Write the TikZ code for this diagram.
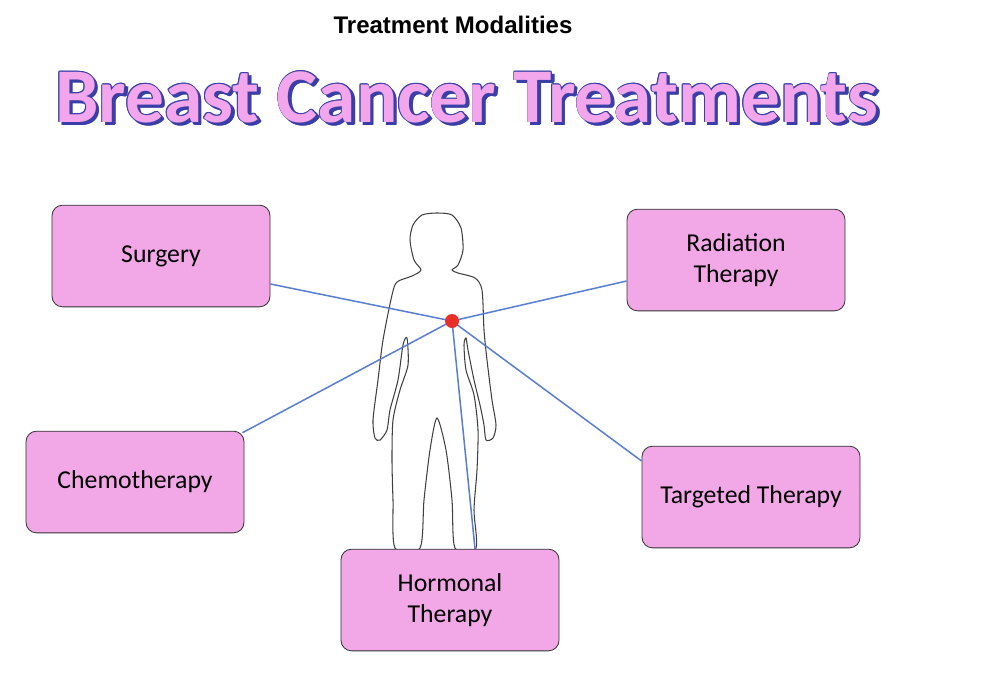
\documentclass[tikz,border=0pt]{standalone}
\usepackage{fontspec}
\setmainfont{Carlito}
\newfontfamily\hel{Liberation Sans}
\definecolor{boxpink}{HTML}{F2A7E6}
\definecolor{titlepink}{HTML}{F3A6EC}
\definecolor{linkblue}{HTML}{5B7FD0}
\definecolor{shadowblue}{HTML}{3A3FA8}
\definecolor{dotred}{HTML}{E8302A}
\begin{document}
\begin{tikzpicture}[x=0.03cm,y=-0.03cm,
  tbox/.style={draw=black!80,fill=boxpink,rounded corners=9pt,line width=0.7pt,minimum width=6.54cm,minimum height=3.05cm,align=center,font=\fontsize{22}{27}\selectfont,inner sep=0pt},
  link/.style={draw=linkblue,line width=1.3pt}]
\useasboundingbox (0,0) rectangle (1008,696);
\node[font=\hel\bfseries\fontsize{20.5}{23}\selectfont] (sub) at (453,25) {Treatment Modalities};
\foreach \dx/\dy in {3/3,2.5/3.5,3.5/2.5,-0.8/0,0.8/0,0/-0.8,0/0.8,-0.6/-0.6,0.6/0.6,-0.6/0.6,0.6/-0.6}
  \node[text=shadowblue,inner sep=0pt] at (467+\dx,97+\dy) {\resizebox{24.7cm}{!}{\bfseries Breast Cancer Treatments}};
\node[text=titlepink,inner sep=0pt] (title) at (467,97) {\resizebox{24.7cm}{!}{\bfseries Breast Cancer Treatments}};
% silhouette
\draw[black!75,line width=0.9pt] plot[smooth cycle,tension=0.45] coordinates{
(437,213)(452,215)(461,228)(463,250)(458,265)(452,270)(458,273)(475,278)(482,290)(484,330)(487,360)(492,400)(496,425)(493,438)(486,440)(484,425)(480,405)(474,380)(468,350)(466,338)(464,345)(466,370)(474,395)(478,430)(477,470)(474,510)(476,548)
(455,548)(452,500)(446,450)(437,418)(430,450)(424,500)(420,548)(395,548)(393,500)(392,460)(393,420)(400,390)(408,365)(407,338)(403,345)(398,380)(390,410)(387,430)(380,440)(375,438)(373,420)(378,380)(383,340)(392,295)(397,282)(412,276)(421,270)(414,260)(410,240)(413,225)(422,215)};
\node[tbox] (surg) at (161,256) {Surgery};
\node[tbox] (rad) at (736,260) {Radiation\\Therapy};
\node[tbox] (chemo) at (135,482) {Chemotherapy};
\node[tbox] (targ) at (751,497) {Targeted Therapy};
\node[tbox] (horm) at (450,600) {Hormonal\\Therapy};
\coordinate (c) at (452,321);
\draw[link] (surg.east|-270,284) -- (c);
\draw[link] (rad.west|-627,281) -- (c);
\draw[link] (chemo.north east) ++(-2,2) -- (c);
\draw[link] (targ.west|-642,461) -- (c);
\draw[link] (horm.north-|475,548) -- (c);
\node[fill=dotred,circle,minimum size=0.42cm,inner sep=0pt] (dot) at (c) {};
\end{tikzpicture}
\end{document}
